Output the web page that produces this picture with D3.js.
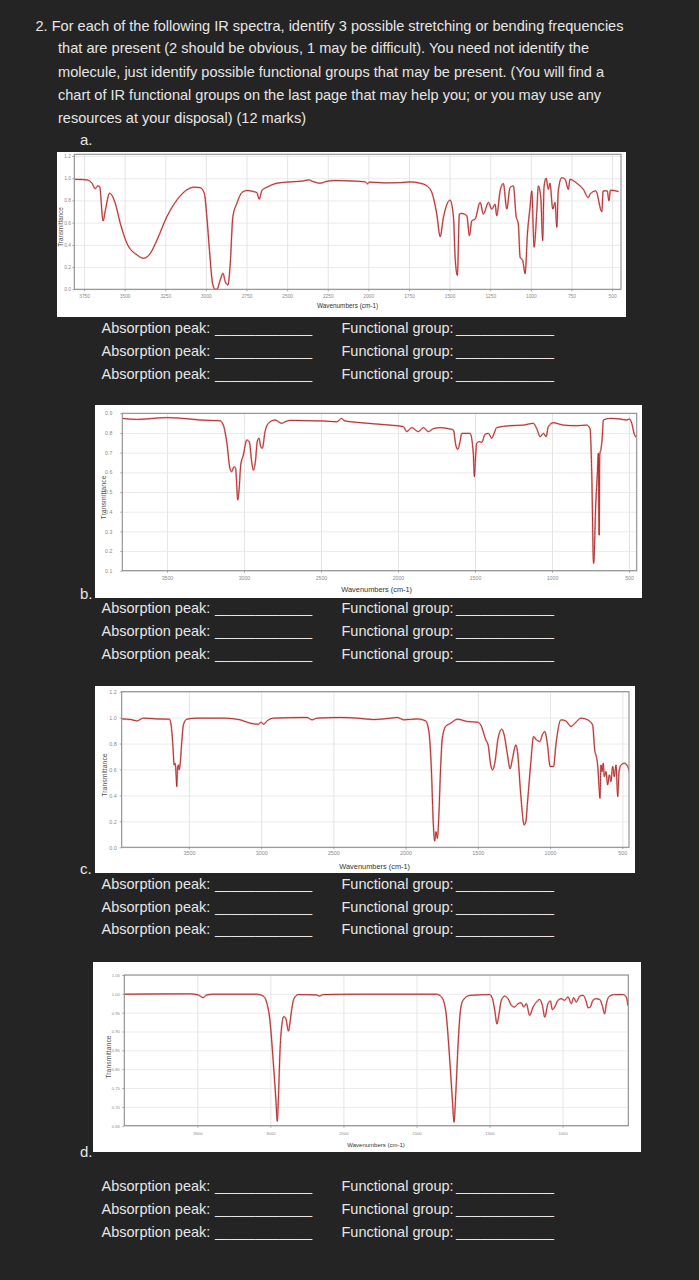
<!DOCTYPE html>
<html><head><meta charset="utf-8">
<script src="https://cdn.jsdelivr.net/npm/d3@7"></script>
<style>
html,body{margin:0;padding:0;background:#242424;}
svg{display:block;}
</style></head><body>
<svg id="c" width="699" height="1280"></svg>
<script>
// ---------- DATA ----------
const titleLines = [
  "2. For each of the following IR spectra, identify 3 possible stretching or bending frequencies",
  "that are present (2 should be obvious, 1 may be difficult). You need not identify the",
  "molecule, just identify possible functional groups that may be present. (You will find a",
  "chart of IR functional groups on the last page that may help you; or you may use any",
  "resources at your disposal) (12 marks)"
];
const questionLabels = ["a.", "b.", "c.", "d."];
const answerLeft = "Absorption peak:";
const answerRight = "Functional group:";
const blankLine = "____________";
const yAxisTitle = "Transmittance";
const xAxisTitle = "Wavenumbers (cm-1)";

const xTicksA = [3750,3500,3250,3000,2750,2500,2250,2000,1750,1500,1250,1000,750,500];
const yTicksA = [0,0.2,0.4,0.6,0.8,1.0,1.2];
const xTicksB = [3500,3000,2500,2000,1500,1000,500];
const yTicksB = [0.1,0.2,0.3,0.4,0.5,0.6,0.7,0.8,0.9];
const xTicksC = [3500,3000,2500,2000,1500,1000,500];
const yTicksC = [0,0.2,0.4,0.6,0.8,1.0,1.2];
const xTicksD = [3500,3000,2500,2000,1500,1000];
const yTicksD = [0.65,0.70,0.75,0.80,0.85,0.90,0.95,1.00,1.05];

// [wavenumber, transmittance]
const spectrumA = [[3808,0.99],[3760,0.988],[3732,0.985],[3701,0.955],[3681,0.905],[3667,0.93],[3654,0.925],[3633,0.615],[3619,0.71],[3593,0.865],[3558,0.775],[3527,0.594],[3486,0.414],[3424,0.309],[3384,0.279],[3342,0.324],[3301,0.444],[3240,0.654],[3178,0.805],[3117,0.895],[3076,0.919],[3035,0.915],[3010,0.865],[2994,0.65],[2978,0.35],[2959,0.054],[2943,0.0],[2932,0.0],[2912,0.084],[2895,0.144],[2881,0.069],[2864,0.039],[2850,0.234],[2834,0.654],[2809,0.775],[2778,0.871],[2748,0.889],[2707,0.88],[2686,0.87],[2672,0.811],[2655,0.89],[2624,0.919],[2563,0.955],[2481,0.967],[2400,0.975],[2369,0.985],[2340,0.97],[2297,0.955],[2260,0.97],[2215,0.979],[2100,0.975],[2020,0.967],[2005,0.95],[1995,0.965],[1900,0.958],[1800,0.96],[1743,0.967],[1681,0.955],[1640,0.931],[1609,0.87],[1579,0.677],[1558,0.474],[1538,0.647],[1497,0.803],[1476,0.647],[1466,0.289],[1452,0.125],[1440,0.677],[1425,0.683],[1394,0.662],[1378,0.483],[1363,0.617],[1343,0.632],[1312,0.782],[1292,0.677],[1261,0.782],[1240,0.72],[1220,0.767],[1210,0.662],[1189,0.886],[1169,0.952],[1148,0.722],[1128,0.916],[1107,0.931],[1091,0.662],[1077,0.588],[1066,0.289],[1050,0.259],[1035,0.14],[1021,0.498],[1005,0.737],[994,0.886],[980,0.379],[963,0.707],[954,0.931],[939,0.83],[927,0.438],[919,0.916],[906,1.0],[892,0.9],[882,0.955],[865,0.722],[851,0.782],[840,0.558],[831,0.886],[810,1.005],[789,0.99],[769,0.9],[759,0.99],[717,0.955],[677,0.9],[646,0.826],[636,0.856],[600,0.886],[563,0.698],[555,0.886],[530,0.886],[519,0.797],[510,0.892],[460,0.88]];

const spectrumB = [[3790,0.874],[3697,0.869],[3502,0.878],[3350,0.871],[3285,0.866],[3156,0.862],[3134,0.84],[3112,0.755],[3091,0.62],[3080,0.603],[3065,0.628],[3054,0.62],[3047,0.535],[3041,0.459],[3032,0.51],[3021,0.637],[3004,0.688],[2982,0.764],[2965,0.755],[2950,0.654],[2939,0.611],[2926,0.654],[2913,0.759],[2902,0.773],[2891,0.73],[2881,0.722],[2863,0.807],[2842,0.849],[2798,0.866],[2755,0.849],[2733,0.857],[2701,0.864],[2592,0.8625],[2485,0.861],[2398,0.857],[2365,0.874],[2350,0.8625],[2268,0.854],[2052,0.84],[1965,0.832],[1943,0.807],[1911,0.827],[1868,0.807],[1835,0.827],[1803,0.807],[1770,0.822],[1727,0.827],[1673,0.822],[1640,0.815],[1625,0.739],[1612,0.717],[1597,0.756],[1586,0.798],[1532,0.798],[1511,0.697],[1504,0.578],[1498,0.654],[1489,0.747],[1472,0.756],[1456,0.752],[1435,0.793],[1413,0.798],[1391,0.773],[1376,0.798],[1359,0.827],[1272,0.837],[1186,0.84],[1121,0.849],[1099,0.822],[1077,0.781],[1056,0.798],[1038,0.781],[1024,0.832],[991,0.852],[926,0.84],[839,0.837],[774,0.84],[753,0.822],[742,0.603],[731,0.146],[729,0.137],[716,0.434],[705,0.603],[699,0.697],[694,0.281],[690,0.688],[681,0.722],[675,0.764],[666,0.866],[623,0.874],[558,0.871],[514,0.866],[497,0.871],[482,0.849],[467,0.798],[456,0.781],[450,0.788]];

const spectrumC = [[3965,0.99],[3900,0.985],[3861,0.975],[3815,0.996],[3722,0.99],[3635,0.988],[3623,0.944],[3611,0.79],[3602,0.635],[3595,0.648],[3588,0.55],[3584,0.468],[3579,0.61],[3572,0.635],[3568,0.597],[3561,0.635],[3549,0.816],[3538,0.944],[3514,0.988],[3445,0.996],[3260,0.996],[3145,0.983],[3075,0.957],[3018,0.949],[3001,0.965],[2983,0.949],[2959,0.975],[2913,0.996],[2682,1.001],[2647,0.983],[2613,0.996],[2451,1.001],[2335,0.996],[2220,0.985],[2104,0.996],[2058,1.001],[2012,0.983],[1919,0.99],[1862,0.975],[1839,0.893],[1822,0.61],[1808,0.172],[1799,0.048],[1790,0.12],[1780,0.069],[1769,0.275],[1758,0.61],[1746,0.841],[1723,0.932],[1688,0.957],[1642,0.988],[1572,0.97],[1503,0.965],[1480,0.944],[1445,0.828],[1429,0.79],[1411,0.635],[1399,0.597],[1383,0.648],[1360,0.841],[1334,0.911],[1318,0.867],[1295,0.713],[1277,0.605],[1260,0.687],[1237,0.79],[1226,0.739],[1203,0.404],[1180,0.172],[1168,0.198],[1156,0.352],[1133,0.661],[1115,0.854],[1094,0.828],[1071,0.816],[1052,0.872],[1036,0.893],[1018,0.79],[1000,0.623],[976,0.623],[960,0.79],[925,0.983],[891,0.975],[856,0.932],[821,0.965],[787,0.996],[740,0.983],[706,0.944],[690,0.739],[683,0.713],[671,0.635],[662,0.481],[655,0.378],[648,0.635],[641,0.584],[632,0.648],[625,0.545],[613,0.584],[602,0.481],[590,0.558],[579,0.507],[567,0.623],[556,0.545],[544,0.635],[532,0.391],[523,0.584],[509,0.635],[486,0.648],[463,0.623],[447,0.571]];

const spectrumD = [[4000,0.999],[3551,1.0],[3494,0.997],[3460,0.990],[3437,0.997],[3391,0.999],[3094,0.999],[3049,0.994],[3026,0.978],[3003,0.929],[2981,0.823],[2962,0.717],[2953,0.662],[2944,0.735],[2935,0.841],[2923,0.912],[2908,0.940],[2894,0.934],[2876,0.901],[2867,0.92],[2855,0.956],[2839,0.987],[2810,0.998],[2684,0.997],[2666,0.994],[2639,0.998],[2400,0.999],[2251,0.999],[1863,0.999],[1829,0.992],[1800,0.956],[1772,0.823],[1754,0.717],[1743,0.659],[1731,0.735],[1715,0.867],[1699,0.956],[1681,0.983],[1635,0.996],[1499,0.998],[1480,0.987],[1464,0.956],[1449,0.920],[1435,0.947],[1419,0.983],[1396,0.994],[1373,0.987],[1350,0.969],[1328,0.965],[1305,0.974],[1282,0.976],[1266,0.965],[1248,0.974],[1225,0.943],[1202,0.965],[1179,0.978],[1157,0.985],[1138,0.969],[1122,0.938],[1100,0.974],[1083,0.981],[1070,0.958],[1054,0.965],[1031,0.983],[1008,0.987],[986,0.983],[963,0.992],[940,0.974],[924,0.99],[906,0.978],[883,0.994],[860,0.996],[837,0.978],[826,0.963],[810,0.965],[792,0.983],[769,0.987],[746,0.985],[728,0.969],[712,0.947],[700,0.974],[678,0.994],[644,0.998],[587,0.998],[564,0.992],[553,0.969]];

// ---------- LAYOUT ----------
const svg = d3.select("#c");
const FONT = "'Liberation Sans', Arial, sans-serif";
const textColor = "#e6e6e6";

svg.append("rect").attr("width",699).attr("height",1280).attr("fill","#242424");

const titleLayout = [
  {x:35.5, y:30.5, len:588},
  {x:58, y:53, len:531},
  {x:58, y:76.5, len:546},
  {x:58, y:99.5, len:543},
  {x:58, y:122.5, len:248}
];
titleLines.forEach((t,i)=>{
  svg.append("text").attr("x",titleLayout[i].x).attr("y",titleLayout[i].y)
    .attr("textLength",titleLayout[i].len).attr("lengthAdjust","spacingAndGlyphs")
    .attr("font-family",FONT).attr("font-size",15).attr("fill",textColor).text(t);
});

const labelLayout = [{x:80,y:145},{x:80,y:598.5},{x:80,y:874},{x:80,y:1157}];
questionLabels.forEach((t,i)=>{
  svg.append("text").attr("x",labelLayout[i].x).attr("y",labelLayout[i].y)
    .attr("font-family",FONT).attr("font-size",15).attr("fill",textColor).text(t);
});

const answerRows = [[333,356,379],[613,636,659],[889,911.5,934],[1191,1214,1236.5]];
answerRows.flat().forEach(y=>{
  const g = svg.append("g").attr("font-family",FONT).attr("font-size",14.5).attr("fill",textColor);
  g.append("text").attr("x",101.5).attr("y",y).text(answerLeft);
  g.append("text").attr("x",215).attr("y",y).attr("textLength",97).attr("lengthAdjust","spacingAndGlyphs").text(blankLine);
  g.append("text").attr("x",341.5).attr("y",y).text(answerRight);
  g.append("text").attr("x",456).attr("y",y).attr("textLength",98).attr("lengthAdjust","spacingAndGlyphs").text(blankLine);
});

const charts = [
  {data:spectrumA, xt:xTicksA, yt:yTicksA, fmt:d3.format(".1f"),
   panel:[57,152,626,317], plot:[74.3,154.3,621,289.3], xDom:[3810,445], yDom:[0,1.2], yRange:[289.3,156],
   tickFs:4.8, xLabDy:8.5, yLabGap:1.5, ytX:60, ytY:227, ytFs:6.3, xtX:347.5, xtY:308, xtFs:6.4},
  {data:spectrumB, xt:xTicksB, yt:yTicksB, fmt:d3.format(".1f"),
   panel:[95,405,642,598], plot:[122.3,413.3,636.7,570.7], xDom:[3790,450], yDom:[0.1,0.9], yRange:[570.7,413.3],
   tickFs:5.2, xLabDy:9.3, yLabGap:8, ytX:103, ytY:497.5, ytFs:7, xtX:376.7, xtY:591.5, xtFs:7.4},
  {data:spectrumC, xt:xTicksC, yt:yTicksC, fmt:d3.format(".1f"),
   panel:[95,686,635,873], plot:[121.7,691.7,629,847.3], xDom:[3965,454], yDom:[0,1.2], yRange:[847.3,691.7],
   tickFs:5.4, xLabDy:7.8, yLabGap:3, ytX:104.5, ytY:775, ytFs:6.9, xtX:374.7, xtY:869, xtFs:7.4},
  {data:spectrumD, xt:xTicksD, yt:yTicksD, fmt:d3.format(".2f"),
   panel:[93,962,641,1152], plot:[124.3,975,628.3,1125.7], xDom:[4000,550], yDom:[0.65,1.05], yRange:[1125.7,975],
   tickFs:4.2, xLabDy:9.3, yLabGap:2.5, ytX:108, ytY:1057, ytFs:6.9, xtX:376, xtY:1147, xtFs:6}
];

charts.forEach((c,ci)=>{
  const [px0,py0,px1,py1] = c.panel;
  const [l,t,r,b] = c.plot;
  svg.append("rect").attr("x",px0).attr("y",py0).attr("width",px1-px0).attr("height",py1-py0).attr("fill","#ffffff");
  const x = d3.scaleLinear().domain(c.xDom).range([l,r]);
  const y = d3.scaleLinear().domain(c.yDom).range(c.yRange);
  const g = svg.append("g");

  // grid
  g.append("g").attr("transform",`translate(0,${b})`)
    .call(d3.axisBottom(x).tickValues(c.xt).tickSize(-(b-t)).tickFormat(""))
    .call(s=>{s.select(".domain").remove(); s.selectAll("line").attr("stroke","#dedede").attr("stroke-width",0.8);});
  g.append("g").attr("transform",`translate(${l},0)`)
    .call(d3.axisLeft(y).tickValues(c.yt).tickSize(-(r-l)).tickFormat(""))
    .call(s=>{s.select(".domain").remove(); s.selectAll("line").attr("stroke","#e6e6e6").attr("stroke-width",0.8);});

  // tick labels
  g.append("g").attr("transform",`translate(0,${b})`)
    .call(d3.axisBottom(x).tickValues(c.xt).tickSize(2).tickPadding(c.xLabDy-2-c.tickFs*0.7).tickFormat(d3.format("d")))
    .call(s=>{s.select(".domain").remove();
      s.selectAll("line").attr("stroke","#aaa");
      s.selectAll("text").attr("font-family",FONT).attr("font-size",c.tickFs).attr("fill","#8a8a8a");});
  g.append("g").attr("transform",`translate(${l},0)`)
    .call(d3.axisLeft(y).tickValues(c.yt).tickSize(2).tickPadding(c.yLabGap).tickFormat(c.fmt))
    .call(s=>{s.select(".domain").remove();
      s.selectAll("line").attr("stroke","#aaa");
      s.selectAll("text").attr("font-family",FONT).attr("font-size",c.tickFs).attr("fill","#8a8a8a");});

  // spectrum
  const clipId = "clip"+ci;
  svg.append("clipPath").attr("id",clipId).append("rect").attr("x",l).attr("y",t-2).attr("width",r-l).attr("height",b-t+4);
  const line = d3.line().x(d=>x(d[0])).y(d=>y(d[1])).curve(d3.curveMonotoneX);
  const lg = g.append("g").attr("clip-path",`url(#${clipId})`);
  lg.append("path").datum(c.data).attr("d",line).attr("fill","none").attr("stroke","#e25a5a").attr("stroke-opacity",0.45).attr("stroke-width",1.9).attr("stroke-linejoin","round");
  lg.append("path").datum(c.data).attr("d",line).attr("fill","none").attr("stroke","#a82020").attr("stroke-width",0.9).attr("stroke-linejoin","round");

  // frame
  g.append("rect").attr("x",l).attr("y",t).attr("width",r-l).attr("height",b-t)
    .attr("fill","none").attr("stroke","#8c8c8c").attr("stroke-width",1.1);

  // axis titles
  g.append("text").attr("transform",`translate(${c.ytX},${c.ytY}) rotate(-90)`)
    .attr("text-anchor","middle").attr("dominant-baseline","central")
    .attr("font-family",FONT).attr("font-size",c.ytFs).attr("fill","#555").text(yAxisTitle);
  g.append("text").attr("x",c.xtX).attr("y",c.xtY).attr("text-anchor","middle")
    .attr("font-family",FONT).attr("font-size",c.xtFs).attr("fill","#333").text(xAxisTitle);
});
</script>
</body></html>
